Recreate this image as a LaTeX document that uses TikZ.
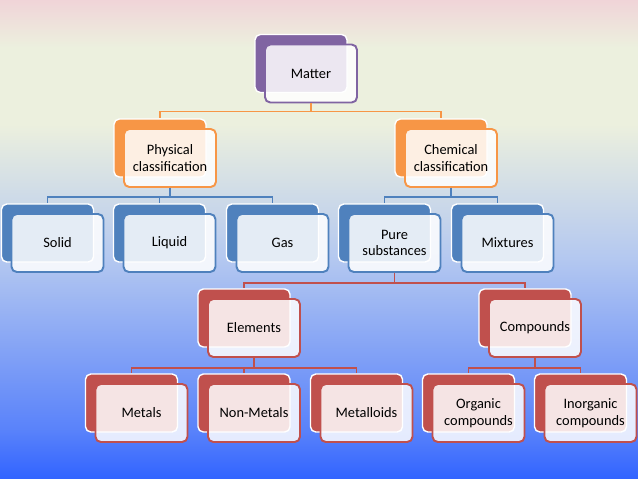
\documentclass[tikz,border=0pt]{standalone}
\usepackage{fontspec}
\setmainfont{Carlito}
\usetikzlibrary{positioning}
\definecolor{purp}{RGB}{128,100,162}
\definecolor{oran}{RGB}{247,150,70}
\definecolor{blu}{RGB}{79,129,189}
\definecolor{rd}{RGB}{192,80,77}
\definecolor{bgtop}{RGB}{240,212,216}
\definecolor{bgmid}{RGB}{236,240,222}
\definecolor{bglow}{RGB}{180,200,240}
\definecolor{bgbot}{RGB}{50,100,255}
\pgfdeclareverticalshading{bgshade}{100bp}{color(0bp)=(bgbot); color(25bp)=(bgbot); color(30bp)=(bgbot!70!bglow); color(48bp)=(bglow); color(62bp)=(bgmid); color(70bp)=(bgmid); color(75bp)=(bgtop); color(100bp)=(bgtop)}

% one coloured card: back plate and front label
\newcommand\chartbox[5]{%
  \node[backbox,fill=#2] (#1B) at (#3-10,#4-10) {};
  \node[frontbox,draw=#2] (#1) at (#3,#4) {#5};}

\begin{document}
\begin{tikzpicture}[x=0.02cm,y=-0.02cm,
    backbox/.style={rectangle, rounded corners=3pt, draw=white, line width=0.8pt,
                    minimum width=1.84cm, minimum height=1.16cm, inner sep=0pt},
    frontbox/.style={rectangle, rounded corners=3pt, fill=white, fill opacity=0.85,
                    text opacity=1, line width=1.1pt, minimum width=1.84cm,
                    minimum height=1.16cm, align=center, inner sep=1pt,
                    font=\fontsize{8.2}{9.4}\selectfont},
    link/.style={line width=0.9pt}
    ]
  \shade[shading=bgshade] (0,0) rectangle (638,478);
  \useasboundingbox (0,0) rectangle (638,478);

%% Level 1
\chartbox{matter}{purp}{311}{73.5}{Matter}
%% Level 2
\chartbox{phys}{oran}{170}{158}{Physical\\classification}
\chartbox{chem}{oran}{451}{158}{Chemical\\classification}
%% Level 3
\chartbox{solid}{blu}{57.5}{243}{Solid}
\chartbox{liquid}{blu}{169.5}{243}{Liquid}
\chartbox{gas}{blu}{282.5}{243}{Gas}
\chartbox{pure}{blu}{394.5}{243}{Pure\\substances}
\chartbox{mix}{blu}{507.5}{243}{Mixtures}
%% Level 4
\chartbox{elem}{rd}{254}{328}{Elements}
\chartbox{comp}{rd}{535}{328}{Compounds}
%% Level 5
\chartbox{metals}{rd}{141.5}{413}{Metals}
\chartbox{nonmet}{rd}{254}{413}{Non-Metals}
\chartbox{metalloid}{rd}{366.5}{413}{Metalloids}
\chartbox{org}{rd}{478.5}{413}{Organic\\compounds}
\chartbox{inorg}{rd}{590.5}{413}{Inorganic\\compounds}

%% Connectors
\foreach \kid in {physB,chemB}
  \draw[link,oran] (matter.south) -- ++(0,8) -| (\kid.north);
\foreach \kid in {solidB,liquidB,gasB}
  \draw[link,blu] (phys.south) -- ++(0,9) -| (\kid.north);
\foreach \kid in {pureB,mixB}
  \draw[link,blu] (chem.south) -- ++(0,9) -| (\kid.north);
\foreach \kid in {elemB,compB}
  \draw[link,rd] (pure.south) -- ++(0,10) -| (\kid.north);
\foreach \kid in {metalsB,nonmetB,metalloidB}
  \draw[link,rd] (elem.south) -- ++(0,10) -| (\kid.north);
\foreach \kid in {orgB,inorgB}
  \draw[link,rd] (comp.south) -- ++(0,10) -| (\kid.north);

\end{tikzpicture}
\end{document}
